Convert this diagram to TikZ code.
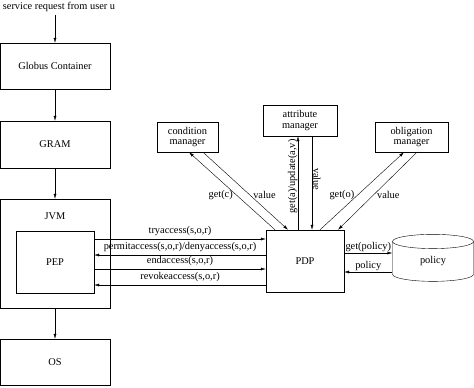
\documentclass[tikz,border=0pt]{standalone}
\usepackage{fontspec}
\setmainfont{Liberation Serif}
\usetikzlibrary{arrows.meta,shapes.geometric}
\begin{document}
\begin{tikzpicture}[x=1bp,y=-1bp,
  box/.style={draw,inner sep=0pt,align=center},
  >={Latex[length=5bp,width=3bp]}, font=\fontsize{10.4}{10.8}\selectfont]
\useasboundingbox (0,0) rectangle (474,387);

\node (req) at (59,7) {service request from user u};
\node[box,minimum width=110bp,minimum height=46bp] (globus) at (55,66) {Globus Container};
\node[box,minimum width=110bp,minimum height=47bp] (gram) at (55,144.5) {GRAM};
\node[box,minimum width=110bp,minimum height=109bp,
  label={[anchor=north,yshift=-10bp]north:JVM}] (jvm) at (55,253.5) {};
\node[box,minimum width=78bp,minimum height=62bp] (pep) at (55,262) {PEP};
\node[box,minimum width=110bp,minimum height=46bp] (os) at (55,362) {OS};

\node[box,minimum width=78bp,minimum height=62bp] (pdp) at (305,261) {PDP};
\node[box,minimum width=61bp,minimum height=30bp] (cond) at (187.5,137) {condition\\manager};
\node[box,minimum width=74bp,minimum height=31bp] (attr) at (300,120.5) {attribute\\manager};
\node[box,minimum width=73bp,minimum height=30bp] (oblig) at (411.5,137) {obligation\\manager};
\node[draw,cylinder,shape border rotate=90,aspect=0.55,inner sep=0pt,
  minimum width=81bp,minimum height=47bp] (policy) at (433,261.5) {policy};

\draw[->] (req.south -| globus.north) -- (globus.north);
\draw[->] (globus) -- (gram);
\draw[->] (gram) -- (jvm);
\draw[->] (jvm) -- (os);

\draw[->] ([yshift=23bp]pep.east) -- ([yshift=23bp]pep.east -| pdp.west) node[midway,above] {tryaccess(s,o,r)};
\draw[<-] ([yshift=7bp]pep.east) -- ([yshift=7bp]pep.east -| pdp.west) node[midway,above] {permitaccess(s,o,r)/denyaccess(s,o,r)};
\draw[->] ([yshift=-7bp]pep.east) -- ([yshift=-7bp]pep.east -| pdp.west) node[midway,above] {endaccess(s,o,r)};
\draw[<-] ([yshift=-23bp]pep.east) -- ([yshift=-23bp]pep.east -| pdp.west) node[midway,above] {revokeaccess(s,o,r)};

\draw[->] ([xshift=-30bp]pdp.north) -- ([xshift=1.5bp]cond.south) node[pos=0.45,left] {get(c)};
\draw[->] ([xshift=15.5bp]cond.south) -- ([xshift=-17bp]pdp.north) node[pos=0.55,right] {value};
\draw[->] ([xshift=-7bp]pdp.north) -- ([xshift=-7bp]pdp.north |- attr.south)
  node[pos=0.57,sloped,above,inner sep=0.5pt] {get(a)/update(a,v)};
\draw[->] ([xshift=7bp]pdp.north |- attr.south) -- ([xshift=7bp]pdp.north)
  node[pos=0.46,sloped,above,inner sep=1pt] {value};
\draw[->] ([xshift=15bp]pdp.north) -- ([xshift=-7.5bp]oblig.south) node[pos=0.45,left] {get(o)};
\draw[->] ([xshift=5.5bp]oblig.south) -- ([xshift=33bp]pdp.north) node[pos=0.55,right] {value};

\draw[->] ([yshift=8bp]pdp.east) -- ([yshift=8bp]pdp.east -| policy.west) node[midway,above,inner sep=1pt] {get(policy)};
\draw[<-] ([yshift=-11bp]pdp.east) -- ([yshift=-11bp]pdp.east -| policy.west) node[midway,above,inner sep=1pt] {policy};
\end{tikzpicture}
\end{document}
